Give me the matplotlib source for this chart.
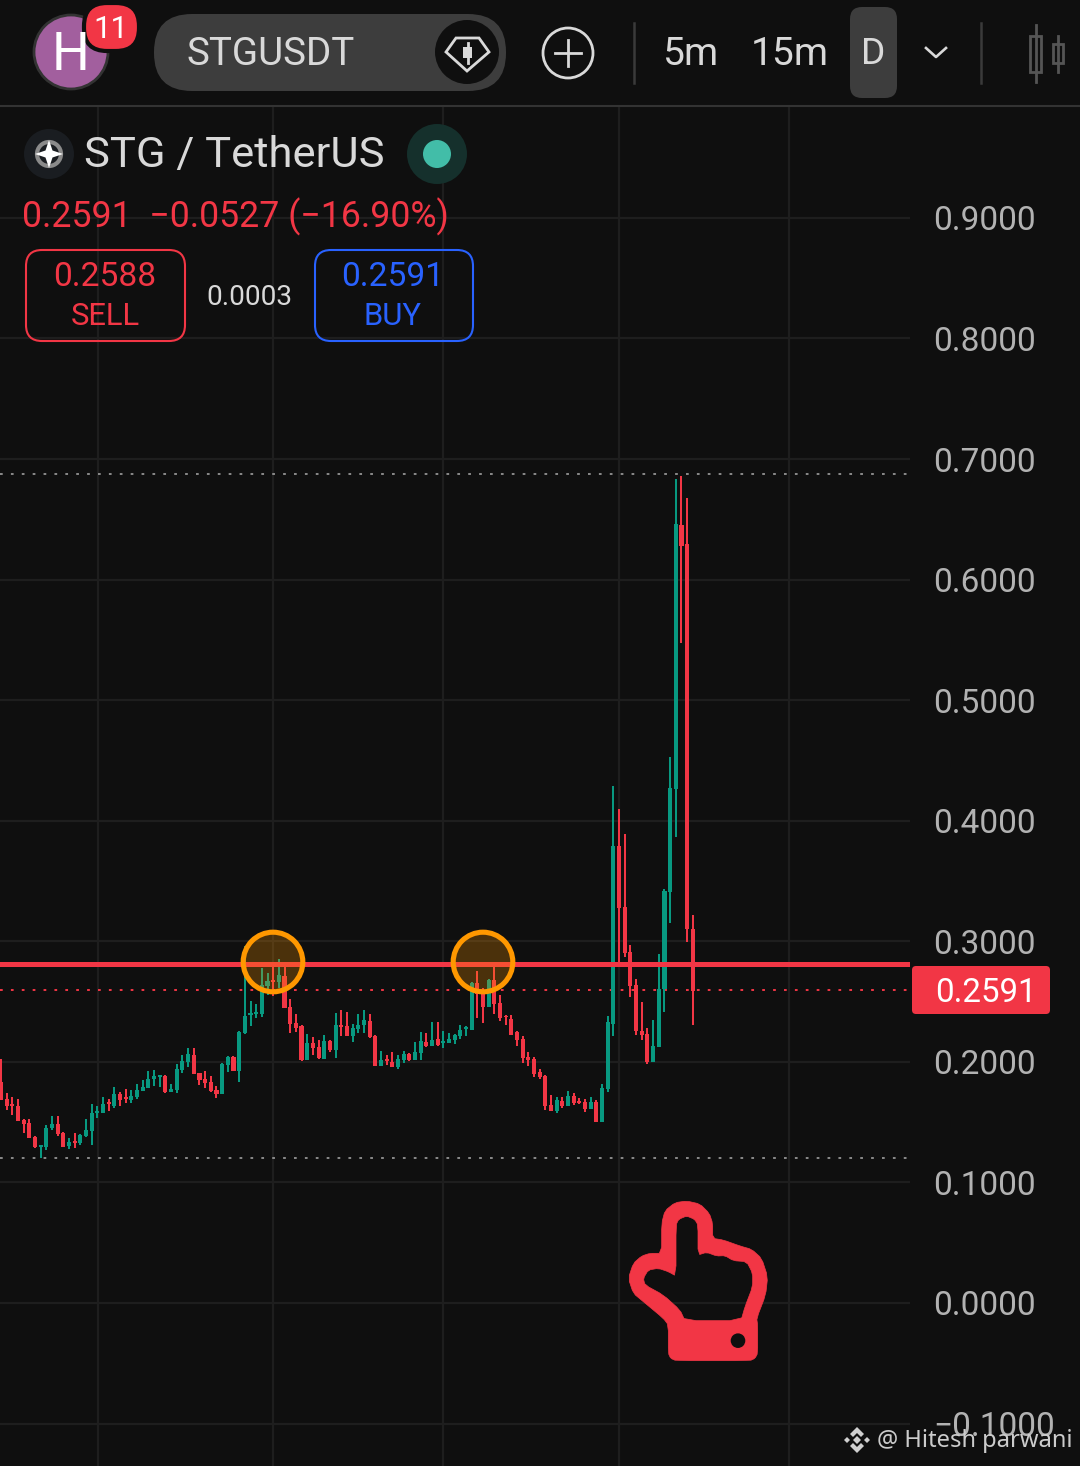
import matplotlib
matplotlib.use("Agg")
import matplotlib.pyplot as plt
from matplotlib.patches import Circle, FancyBboxPatch, Polygon, PathPatch, Rectangle
from matplotlib.path import Path
from matplotlib.ticker import FuncFormatter

plt.rcParams['font.family'] = ['Roboto', 'DejaVu Sans']

directions = ("RRRRRRR" "GGG" "RR" "G" "R" "GGGGG" "R" "G" "RR" "GGGGGG" "R" "GGGG" "RRRRR" "GG" "R" "GGGGGG" "R" "G"
              "RRRR" "G" "RR" "G" "R" "G" "RR" "GGG" "RR" "G" "RR" "GG" "R" "GG" "R" "G" "R" "GGGGGG" "RR" "G"
              "RRRRRRRRRRR" "G" "R" "G" "RRR" "G" "R" "GGG" "RRRRRR" "GGGGG" "RRR")
highs = [.2021,.1742,.1709,.1692,.1526,.1526,.1385,.1311,.1477,.1551,.1551,.1418,.1369,.1410,.1402,.1526,.1651,.1634,.1709,.1692,
         .1792,.1750,.1775,.1767,.1817,.1850,.1925,.1933,.1891,.1891,.1817,.1983,.2057,.2115,.2115,.1908,.1925,.1883,.1800,.1988,
         .2049,.2049,.2256,.2961,.2505,.2480,.2779,.2737,.2795,.2853,.2804,.2522,.2397,.2306,.2231,.2206,.2182,.2223,.2182,.2406,
         .2430,.2414,.2314,.2397,.2430,.2397,.2223,.2090,.2057,.2082,.2057,.2090,.2074,.2165,.2248,.2240,.2331,.2331,.2256,.2240,
         .2231,.2306,.2298,.2663,.2754,.2613,.2688,.2795,.2555,.2389,.2389,.2256,.2215,.2082,.2041,.1941,.1891,.1725,.1709,.1709,
         .1759,.1742,.1700,.1692,.1709,.1684,.1817,.2381,.4287,.4097,.3890,.2968,.2686,.2495,.2279,.2345,.2893,.3434,.4527,.6833,
         .6863,.6676,.3217]
lows = [.1684,.1601,.1559,.1510,.1410,.1369,.1286,.1203,.1269,.1435,.1385,.1294,.1277,.1286,.1311,.1377,.1311,.1535,.1576,.1593,
        .1618,.1634,.1659,.1659,.1692,.1759,.1783,.1800,.1792,.1742,.1750,.1742,.1908,.1958,.1900,.1808,.1783,.1750,.1700,.1734,
        .1916,.1925,.1833,.2231,.2298,.2364,.2372,.2555,.2547,.2613,.2447,.2240,.2248,.2007,.2016,.2057,.2024,.2024,.2082,.2032,
        .2215,.2215,.2165,.2240,.2240,.2198,.1966,.1966,.1974,.1958,.1941,.1991,.2007,.2016,.2016,.2124,.2132,.2132,.2115,.2157,
        .2148,.2190,.2215,.2265,.2364,.2323,.2455,.2397,.2339,.2306,.2223,.2132,.1991,.1966,.1875,.1858,.1601,.1593,.1576,.1618,
        .1634,.1642,.1651,.1584,.1609,.1501,.1501,.1750,.2213,.2784,.2870,.2535,.2220,.2180,.1980,.1997,.2121,.2413,.3152,.3864,
        .5475,.2994,.2305]
body_tops = [.1833,.1692,.1651,.1634,.1518,.1493,.1377,.1311,.1452,.1485,.1485,.1410,.1336,.1344,.1393,.1435,.1576,.1593,.1651,.1667,
             .1734,.1734,.1709,.1717,.1767,.1792,.1858,.1883,.1891,.1883,.1775,.1941,.2007,.2065,.2057,.1908,.1858,.1833,.1767,.1983,
             .2041,.2041,.2248,.2381,.2406,.2414,.2638,.2671,.2679,.2721,.2712,.2455,.2323,.2298,.2157,.2157,.2124,.2173,.2173,.2306,
             .2306,.2298,.2281,.2306,.2347,.2339,.2215,.2016,.2024,.1999,.2024,.2065,.2065,.2082,.2173,.2165,.2182,.2190,.2173,.2190,
             .2223,.2265,.2289,.2654,.2654,.2596,.2679,.2679,.2489,.2381,.2356,.2248,.2190,.2041,.2024,.1916,.1883,.1642,.1684,.1676,
             .1717,.1717,.1676,.1667,.1667,.1667,.1783,.2331,.3788,.3788,.3283,.2909,.2637,.2259,.2230,.2128,.2604,.3418,.4271,.6459,
             .6453,.6295,.3099]
body_bottoms = [.1684,.1634,.1634,.1510,.1485,.1369,.1291,.1294,.1294,.1452,.1402,.1297,.1302,.1327,.1327,.1383,.1427,.1576,.1576,.1651,
                .1634,.1684,.1692,.1684,.1709,.1759,.1783,.1858,.1875,.1750,.1750,.1767,.1933,.1999,.1900,.1850,.1825,.1759,.1734,.1734,
                .1974,.1925,.1925,.2237,.2389,.2397,.2397,.2630,.2663,.2663,.2447,.2314,.2281,.2016,.2016,.2115,.2032,.2024,.2099,.2099,
                .2289,.2215,.2215,.2273,.2306,.2206,.1966,.1966,.2007,.1958,.1958,.2016,.2016,.2016,.2074,.2132,.2132,.2140,.2157,.2157,
                .2182,.2215,.2273,.2265,.2563,.2455,.2455,.2480,.2364,.2372,.2223,.2182,.2032,.2016,.1900,.1875,.1634,.1593,.1593,.1634,
                .1634,.1659,.1659,.1609,.1609,.1501,.1501,.1775,.2312,.3276,.2902,.2627,.2259,.2220,.1997,.1997,.2121,.2604,.3408,.4261,
                .6279,.3099,.2587]
price_ticks = [-0.1, 0.0, 0.1, 0.2, 0.3, 0.4, 0.5, 0.6, 0.7, 0.8, 0.9]
date_positions = [17.1, 48, 78, 109, 139]
resistance = 0.2812
session_high = 0.6876
session_low = 0.1203
last_price = 0.2596

BG = '#0f0f0f'; RED = '#f23645'; GREEN = '#089981'; GRID = '#1e1e1e'; ORANGE = '#ff9800'
TXT = '#d9d9d9'; AXTXT = '#b2b2b2'; PILL = '#3d3d3d'; BLUE = '#2962ff'
W, H = 1080, 1466
fig = plt.figure(figsize=(W/100, H/100), dpi=100, facecolor=BG)

ax = fig.add_axes([0, 0, 910/W, (H-107)/H], facecolor=BG)
n = len(highs)
xs = list(range(n))
colors = [GREEN if d == 'G' else RED for d in directions]
ax.vlines(xs, lows, highs, colors=colors, linewidth=1.45, zorder=3)
ax.bar(xs, [max(t-b, 0.0012) for t, b in zip(body_tops, body_bottoms)], bottom=body_bottoms,
       width=0.72, color=colors, linewidth=0, zorder=3)
ax.axhline(resistance, color=RED, lw=3.6, zorder=4)
dots = (0, (1.4, 4.2))
ax.axhline(session_high, color='#8a8a8a', lw=1.4, ls=dots, zorder=2)
ax.axhline(session_low, color='#8a8a8a', lw=1.4, ls=dots, zorder=2)
ax.axhline(last_price, color=RED, lw=1.4, ls=dots, zorder=2)
ax.set_xlim(-0.176, 160.3)
ax.set_ylim(-0.1352, 0.9920)
ax.set_xticks(date_positions)
ax.set_xticklabels([])
ax.set_yticks(price_ticks)
ax.yaxis.tick_right()
ax.yaxis.set_major_formatter(FuncFormatter(lambda v, p: f"{v:.4f}".replace('-', '\u2212')))
ax.tick_params(axis='y', length=0, pad=17, labelsize=24, labelcolor=AXTXT)
ax.tick_params(axis='x', length=0)
ax.grid(True, color=GRID, lw=1.6, zorder=0)
ax.set_axisbelow(True)
for s in ax.spines.values():
    s.set_visible(False)

ui = fig.add_axes([0, 0, 1, 1], facecolor='none', zorder=5)
ui.set_xlim(0, W); ui.set_ylim(H, 0); ui.axis('off')

def txt(x, y, s, size, color=TXT, ha='left', **kw):
    ui.text(x, y + 2.5, s, fontsize=size*0.72, color=color, ha=ha, va='center', **kw)

def rbox(x0, y0, x1, y1, r, **kw):
    ui.add_patch(FancyBboxPatch((x0+r, y0+r), x1-x0-2*r, y1-y0-2*r,
                                boxstyle=f"round,pad={r},rounding_size={r}", **kw))

# header
ui.plot([0, W], [106, 106], color='#333333', lw=1.5)
ui.add_patch(Circle((71, 52), 37, fc='#a25f9e', ec='#333333', lw=2))
txt(71, 53, 'H', 53, '#ffffff', ha='center')
rbox(84, 3, 139, 51, 23, fc=RED, ec=BG, lw=3)
txt(111, 27, '11', 31, '#ffffff', ha='center')
rbox(154, 14, 506, 91, 38, fc=PILL, ec='none')
txt(187, 52, 'STGUSDT', 38.5, TXT)
ui.add_patch(Circle((467, 52), 32, fc=BG, ec='none'))
ui.add_patch(Polygon([(446, 52), (456, 38), (479, 38), (489, 52), (467, 71)], closed=True, fc='none', ec=TXT, lw=2))
ui.add_patch(Rectangle((463, 47), 9, 11, fc=TXT, ec='none'))
ui.plot([467.5, 467.5], [43, 63], color=TXT, lw=2)
ui.add_patch(Circle((568, 53), 25, fc='none', ec=TXT, lw=2))
ui.plot([555, 581], [53, 53], color=TXT, lw=2)
ui.plot([568, 568], [40, 66], color=TXT, lw=2)
ui.plot([634, 634], [23, 83], color='#3a3a3a', lw=1.8)
txt(662, 52, '5m', 39)
txt(751, 52, '15m', 39)
rbox(850, 7, 897, 98, 12, fc=PILL, ec='none')
txt(873.5, 52, 'D', 37, ha='center')
ui.plot([926, 936, 946], [48, 57, 48], color=TXT, lw=1.9)
ui.plot([981, 981], [23, 83], color='#3a3a3a', lw=1.8)
ui.add_patch(Rectangle((1030, 36), 11, 36, fc='none', ec='#555555', lw=2))
ui.plot([1035.5, 1035.5], [25, 82], color='#555555', lw=2)
ui.add_patch(Rectangle((1053, 44), 10, 19, fc='none', ec='#555555', lw=2))
ui.plot([1058, 1058], [36, 72], color='#555555', lw=2)

# legend block
ui.add_patch(Circle((49, 154), 25, fc='#1a1d21', ec='none'))
ui.add_patch(Circle((49, 154), 12, fc='none', ec='#8a8a8a', lw=3))
ui.add_patch(Polygon([(49, 140), (52.5, 150.5), (63, 154), (52.5, 157.5), (49, 168), (45.5, 157.5), (35, 154), (45.5, 150.5)],
                     closed=True, fc='#ffffff', ec='none'))
txt(84, 153, 'STG / TetherUS', 43.5)
ui.add_patch(Circle((437, 154), 30, fc='#15302c', ec='none'))
ui.add_patch(Circle((437, 154), 14, fc='#42bda8', ec='none'))
txt(22, 214, '0.2591  \u22120.0527 (\u221216.90%)', 35.6, RED)
rbox(26, 250, 185, 341, 16, fc='none', ec=RED, lw=1.5)
txt(105, 274, '0.2588', 33.5, RED, ha='center')
txt(105, 314, 'SELL', 31, RED, ha='center')
txt(249, 295, '0.0003', 28, TXT, ha='center')
rbox(315, 250, 473, 341, 16, fc='none', ec=BLUE, lw=1.5)
txt(393, 274, '0.2591', 33.5, BLUE, ha='center')
txt(393, 314, 'BUY', 31, BLUE, ha='center')

# highlighted circles
for cx in (273, 483):
    ui.add_patch(Circle((cx, 962), 29.5, fc=ORANGE, alpha=0.25, ec='none'))
    ui.add_patch(Circle((cx, 962), 29.8, fc='none', ec=ORANGE, lw=3.7))

# price label
rbox(912, 966, 1050, 1014, 4, fc=RED, ec='none')
txt(935, 990, '0.2591', 33, '#ffffff')

# hand icon
outer = [(185,190),(185,100),(195,62),(225,38),(260,33),(300,42),(328,70),(338,100),(338,145),(370,150),(420,168),
         (455,178),(485,205),(503,260),(497,315),(470,385),(473,405),(473,490),(465,505),(450,512),(228,512),(212,505),
         (205,490),(205,405),(190,385),(130,335),(100,310),(85,265),(100,220),(125,198),(150,190)]
inner = [(228,258),(228,105),(236,88),(260,78),(284,88),(294,105),(294,195),(320,187),(350,198),(375,197),(400,212),
         (440,215),(458,250),(458,290),(435,350),(423,392),(255,392),(240,360),(190,315),(135,285),(130,265),(145,240),
         (175,235),(205,245)]
def zoom_pt(p):
    return (600 + p[0]/3, 1190 + p[1]/3)
def soften(ring):
    out = []
    for i, a in enumerate(ring):
        b = ring[(i+1) % len(ring)]
        out.append((0.8*a[0]+0.2*b[0], 0.8*a[1]+0.2*b[1]))
        out.append((0.2*a[0]+0.8*b[0], 0.2*a[1]+0.8*b[1]))
    return out
verts, codes = [], []
for ring in (outer, inner[::-1]):
    pts = [zoom_pt(p) for p in soften(ring)]
    verts += pts + [pts[0]]
    codes += [Path.MOVETO] + [Path.LINETO]*(len(pts)-1) + [Path.CLOSEPOLY]
ui.add_patch(PathPatch(Path(verts, codes), fc=RED, ec=RED, lw=0.5, joinstyle='round'))
ui.add_patch(Circle(zoom_pt((414, 452)), 7.3, fc=BG, ec='none'))

# watermark
LOGO = '#cfcfcf'
for pts in ([(857,1427),(864,1434),(861,1437),(857,1433),(853,1437),(850,1434)],
            [(857,1453),(864,1446),(861,1443),(857,1447),(853,1443),(850,1446)],
            [(857,1436),(861,1440),(857,1444),(853,1440)],
            [(847,1437),(850,1440),(847,1443),(844,1440)],
            [(867,1437),(870,1440),(867,1443),(864,1440)]):
    ui.add_patch(Polygon(pts, closed=True, fc=LOGO, ec='none'))
ui.text(877, 1441, '@ Hitesh parwani', fontsize=23.7*0.72, color='#cccccc', ha='left', va='center', family=['Noto Sans', 'DejaVu Sans'])

fig.savefig('out.png', dpi=100, facecolor=BG)
